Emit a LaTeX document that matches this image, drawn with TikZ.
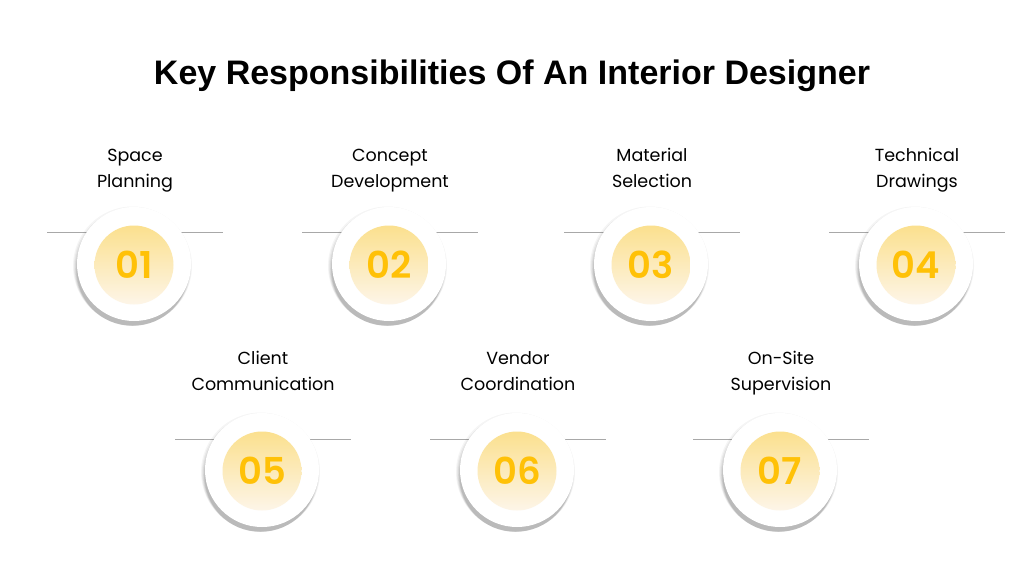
\documentclass[tikz,border=0pt]{standalone}
\usepackage{fontspec}
\setmainfont{Poppins}
\newfontfamily\titlefont{Liberation Sans}
\newfontfamily\numfont{Poppins SemiBold}
\usetikzlibrary{shadings}
\definecolor{numcol}{HTML}{FFC107}
\definecolor{topyel}{HTML}{FBE08E}
\definecolor{botyel}{HTML}{FDF5E8}
\definecolor{linecol}{HTML}{A8A8A8}
\tikzset{
  guide/.style={draw=linecol, line width=0.9pt},
  outer/.style={circle, fill=white, minimum size=114pt, inner sep=0pt},
  inner/.style={circle, top color=topyel, bottom color=botyel, minimum size=79pt, inner sep=0pt,
     font=\numfont\fontsize{37}{40}\selectfont, text=numcol},
  lab/.style={inner sep=0pt, font=\fontsize{17.5}{25}\selectfont, text=black, anchor=base}
}
\newcommand{\stepitem}[8]{%
  % #1 name, #2 x, #3 y, #4 number, #5 line1, #6 line2, #7 line y, #8 label base y
  \coordinate (#1l) at (#2-87,#7);
  \coordinate (#1r) at (#2+89,#7);
  \draw[guide] (#1l) -- (#1r);
  \foreach \k/\o in {0/0.04,1/0.05,2/0.06,3/0.07,4/0.08} {
    \fill[black, opacity=\o] (#2-1.5,#3+2+\k) circle ({59.5-\k*0.9});
  }
  \node[outer] (#1o) at (#2,#3) {};
  \node[inner] (#1i) at (#2,#3+1) {#4};
  \node[lab] (#1t) at (#2+1,#8) {#5};
  \node[lab] (#1u) at (#2+1,#8+26) {#6};
}
\begin{document}
\begin{tikzpicture}[x=1pt,y=-1pt]
\useasboundingbox (0,0) rectangle (1024,576);
\fill[white] (0,0) rectangle (1024,576);
\node[font=\titlefont\bfseries\fontsize{34}{36}\selectfont, anchor=base] (title) at (512,84) {Key Responsibilities Of An Interior Designer};
\stepitem{a}{134}{264}{01}{Space}{Planning}{232}{161}
\stepitem{b}{389}{264}{02}{Concept}{Development}{232}{161}
\stepitem{c}{651}{264}{03}{Material}{Selection}{232}{161}
\stepitem{d}{916}{264}{04}{Technical}{Drawings}{232}{161}
\stepitem{e}{262}{470}{05}{Client}{Communication}{439}{364}
\stepitem{f}{517}{470}{06}{Vendor}{Coordination}{439}{364}
\stepitem{g}{780}{470}{07}{On-Site}{Supervision}{439}{364}
\end{tikzpicture}
\end{document}
